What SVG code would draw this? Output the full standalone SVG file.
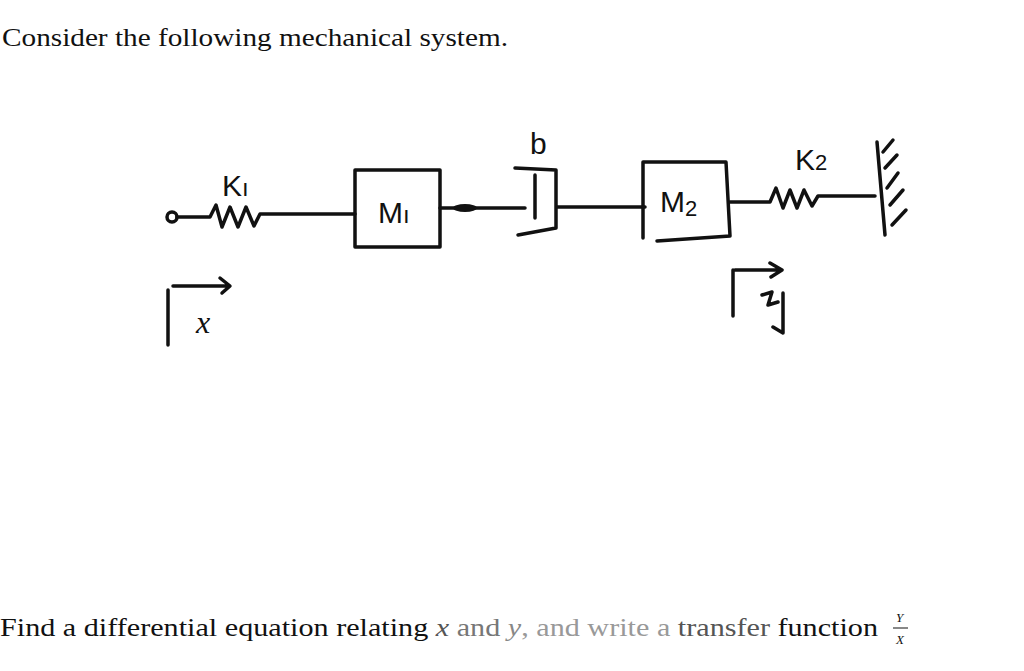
<svg xmlns="http://www.w3.org/2000/svg" width="1024" height="671" viewBox="0 0 1024 671">
<style>
.s{fill:none;stroke:#111;stroke-width:3.5;stroke-linecap:round;stroke-linejoin:round}
.h{font-family:"Liberation Sans",sans-serif;font-size:30px;fill:#111}
.t{font-family:"Liberation Serif",serif;font-size:26px;fill:#111}
</style>
<rect width="1024" height="671" fill="#fff"/>
<text class="t" x="2" y="46" textLength="506" lengthAdjust="spacingAndGlyphs">Consider the following mechanical system.</text>
<g id="ground1"><circle cx="172" cy="217" r="5" class="s"/></g>
<g id="k1"><path class="s" d="M177 217 H210 L216 205 L222 227 L230 207 L238 227 L246 207 L254 226 L260 214 H355"/><text class="h" x="222" y="196">K<tspan font-size="24">ı</tspan></text></g>
<g id="m1"><rect x="355" y="170" width="85" height="77" class="s" stroke-width="4.5"/><text class="h" x="378" y="223">M<tspan font-size="24">ı</tspan></text></g>
<g id="b"><path class="s" d="M440 208 H525"/><ellipse cx="465" cy="208" rx="12" ry="4" fill="#111"/><path class="s" d="M535 175 V218 M515 168 L556 170 V228 L518 235 M556 207 H645"/><text class="h" x="530" y="154">b</text></g>
<g id="m2"><path class="s" d="M643 162 H726 L730 236 L657 241 M643 162 V238"/><text class="h" x="660" y="212">M<tspan font-size="22" dy="4">2</tspan></text></g>
<g id="k2"><path class="s" d="M730 202 H770 L776 188 L783 208 L790 190 L797 208 L804 190 L812 206 L818 196 H875"/><text class="h" x="795" y="170">K<tspan font-size="22">2</tspan></text></g>
<g id="wall"><path class="s" d="M877 142 L885 235 M883 152 L893 140 M885 168 L897 155 M887 188 L898 173 M890 205 L903 190 M892 225 L906 210"/></g>
<g id="xarrow"><path class="s" d="M168 290 V345 M173 286 H228 M220 278 L230 286 L222 293"/><text x="196" y="333" font-style="italic" font-family="Liberation Serif,serif" font-size="32" fill="#111">x</text></g>
<g id="yarrow"><path class="s" d="M733 270 V316 M735 270 H780 M770 263 L782 270 L771 277"/><path class="s" d="M762 295 L772 292 L768 305 L778 302 M783 293 V333 L773 327"/></g>
<text class="t" x="0" y="636" textLength="878" lengthAdjust="spacingAndGlyphs">Find a differential equation relating <tspan font-style="italic" fill="#555">x</tspan> <tspan fill="#777">and</tspan> <tspan font-style="italic" fill="#888">y</tspan><tspan fill="#999">, and write a</tspan> <tspan fill="#555">transfer</tspan> function</text>
<g font-family="Liberation Serif,serif" font-size="13" fill="#111" font-style="italic"><text x="896" y="622">Y</text><text x="896" y="644">X</text></g>
<line x1="893" y1="628" x2="908" y2="628" stroke="#111" stroke-width="1"/>
</svg>
